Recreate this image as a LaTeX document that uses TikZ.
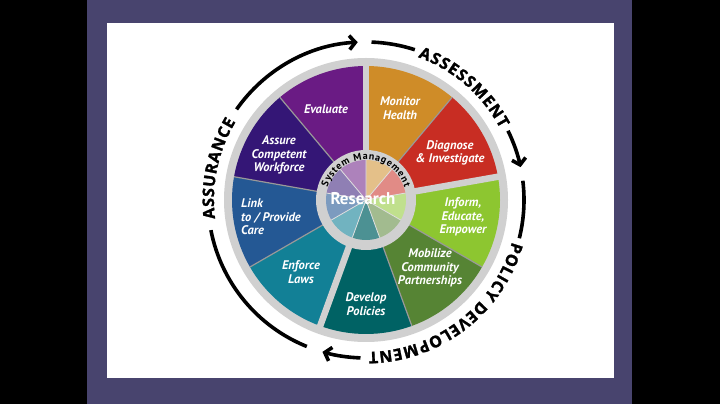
\documentclass[tikz,border=0pt]{standalone}
\usepackage{fontspec}
\setmainfont{PT Sans}
\newfontfamily\capsfont[BoldFeatures={FakeBold=1.5}]{Open Sans}
\usetikzlibrary{arrows.meta, positioning, decorations.text}
\definecolor{clrFrame}{RGB}{72,68,110}
\definecolor{clrRing}{RGB}{208,208,208}
\definecolor{clrEval}{RGB}{106,27,132}
\definecolor{clrMonitor}{RGB}{207,140,40}
\definecolor{clrDiag}{RGB}{200,45,35}
\definecolor{clrInform}{RGB}{141,198,48}
\definecolor{clrMobil}{RGB}{86,132,52}
\definecolor{clrDevelop}{RGB}{0,98,100}
\definecolor{clrEnforce}{RGB}{18,128,150}
\definecolor{clrLink}{RGB}{36,88,148}
\definecolor{clrAssure}{RGB}{52,22,118}

\begin{document}
\begin{tikzpicture}[
  x=1pt, y=1pt,
  seglabel/.style={font=\fontsize{12.5}{13.5}\selectfont\bfseries\itshape,
                   text=white, align=center, inner sep=0pt},
  hublabel/.style={font=\fontsize{17}{17}\selectfont\bfseries,
                   text=white, inner sep=0pt},
  spoke/.style={draw=clrRing, line width=6.5pt},
  thinspoke/.style={draw=gray!80, line width=1.2pt},
  hubspoke/.style={draw=white!75!gray, line width=0.8pt},
  cyclearc/.style={draw=black, line width=3.6pt},
  cyclearr/.style={cyclearc, -{Straight Barb[length=6pt,width=14pt]}},
  phase/.style={decorate, decoration={text along path, text align=fit to path,
                text={|\capsfont\bfseries\fontsize{16}{16}\selectfont|#1}}}
]
\useasboundingbox (0,0) rectangle (720,404);
\fill[black] (0,0) rectangle (720,404);
\fill[clrFrame] (87,0) rectangle (632,404);
\fill[white] (107,26) rectangle (614,381);

\begin{scope}[shift={(366,204)}]
\coordinate (hub) at (0,0);

% outer wheel
\fill[clrRing] (hub) circle[radius=142pt];
\fill[clrMonitor] (hub) -- (50:134pt)   arc[start angle=50,   end angle=90,   radius=134pt] -- cycle;
\fill[clrDiag]    (hub) -- (10:134pt)   arc[start angle=10,   end angle=50,   radius=134pt] -- cycle;
\fill[clrInform]  (hub) -- (-30:134pt)  arc[start angle=-30,  end angle=10,   radius=134pt] -- cycle;
\fill[clrMobil]   (hub) -- (-70:134pt)  arc[start angle=-70,  end angle=-30,  radius=134pt] -- cycle;
\fill[clrDevelop] (hub) -- (-110:134pt) arc[start angle=-110, end angle=-70,  radius=134pt] -- cycle;
\fill[clrEnforce] (hub) -- (-150:134pt) arc[start angle=-150, end angle=-110, radius=134pt] -- cycle;
\fill[clrLink]    (hub) -- (170:134pt)  arc[start angle=170,  end angle=210,  radius=134pt] -- cycle;
\fill[clrAssure]  (hub) -- (130:134pt)  arc[start angle=130,  end angle=170,  radius=134pt] -- cycle;
\fill[clrEval]    (hub) -- (90:134pt)   arc[start angle=90,   end angle=130,  radius=134pt] -- cycle;

\draw[thinspoke] (hub) -- (50:134pt);
\draw[thinspoke] (hub) -- (-30:134pt);
\draw[thinspoke] (hub) -- (-70:134pt);
\draw[thinspoke] (hub) -- (-150:134pt);
\draw[thinspoke] (hub) -- (170:134pt);
\draw[thinspoke] (hub) -- (130:134pt);

% group separators
\draw[spoke] (hub) -- (90:137pt);
\draw[spoke] (hub) -- (10:137pt);
\draw[spoke] (hub) -- (-110:137pt);

% hub
\fill[clrRing] (hub) circle[radius=50pt];
\fill[clrMonitor!55!white] (hub) -- (50:40pt)   arc[start angle=50,   end angle=90,   radius=40pt] -- cycle;
\fill[clrDiag!55!white]    (hub) -- (10:40pt)   arc[start angle=10,   end angle=50,   radius=40pt] -- cycle;
\fill[clrInform!55!white]  (hub) -- (-30:40pt)  arc[start angle=-30,  end angle=10,   radius=40pt] -- cycle;
\fill[clrMobil!55!white]   (hub) -- (-70:40pt)  arc[start angle=-70,  end angle=-30,  radius=40pt] -- cycle;
\fill[clrDevelop!70!white] (hub) -- (-110:40pt) arc[start angle=-110, end angle=-70,  radius=40pt] -- cycle;
\fill[clrEnforce!60!white] (hub) -- (-150:40pt) arc[start angle=-150, end angle=-110, radius=40pt] -- cycle;
\fill[clrLink!60!white]    (hub) -- (170:40pt)  arc[start angle=170,  end angle=210,  radius=40pt] -- cycle;
\fill[clrAssure!55!white]  (hub) -- (130:40pt)  arc[start angle=130,  end angle=170,  radius=40pt] -- cycle;
\fill[clrEval!55!white]    (hub) -- (90:40pt)   arc[start angle=90,   end angle=130,  radius=40pt] -- cycle;
\draw[hubspoke] (hub) -- (90:40pt)  (hub) -- (50:40pt)   (hub) -- (10:40pt)
                (hub) -- (-30:40pt) (hub) -- (-70:40pt)  (hub) -- (-110:40pt)
                (hub) -- (-150:40pt) (hub) -- (170:40pt) (hub) -- (130:40pt);

\path[decorate, decoration={text along path, text align=fit to path,
      text={|\bfseries\fontsize{10}{10}\selectfont|System Management}}]
      (162:40.5pt) arc[start angle=162, end angle=18, radius=40.5pt];
\node[hublabel] (research) at (-3,1) {Research};

% segment labels
\node[seglabel] (evaluate) at (-40,91)  {Evaluate};
\node[seglabel] (monitor)  at (34,92)   {Monitor\\Health};
\node[seglabel] (diagnose) at (84,47)   {Diagnose\\\& Investigate};
\node[seglabel] (inform)   at (97,-17)  {Inform,\\Educate,\\Empower};
\node[seglabel] (mobilize) at (64,-68)  {Mobilize\\Community\\Partnerships};
\node[seglabel] (develop)  at (0,-104)  {Develop\\Policies};
\node[seglabel] (enforce)  at (-65,-72) {Enforce\\Laws};
\node[seglabel, anchor=west, align=left] (link) at (-125,-17) {Link\\to / Provide\\Care};
\node[seglabel] (assure)   at (-87,45)  {Assure\\Competent\\Workforce};

% cycle arrows
\draw[cyclearr] (145:158pt) arc[start angle=145, end angle=93, radius=158pt];
\draw[cyclearc] (88:158pt)  arc[start angle=88,  end angle=72, radius=158pt];
\path[phase=ASSESSMENT] (70:152pt) arc[start angle=70, end angle=28, radius=152pt];
\draw[cyclearr] (26:158pt)  arc[start angle=26,  end angle=12, radius=158pt];
\draw[cyclearc] (7:158pt)   arc[start angle=7,   end angle=-14, radius=158pt];
\path[phase=POLICY DEVELOPMENT] (-16:152pt) arc[start angle=-16, end angle=-89, radius=152pt];
\draw[cyclearr] (-92:158pt) arc[start angle=-92, end angle=-106, radius=158pt];
\draw[cyclearc] (-112:158pt) arc[start angle=-112, end angle=-169, radius=158pt];
\path[phase=ASSURANCE] (187:152pt) arc[start angle=187, end angle=149, radius=152pt];
\end{scope}
\end{tikzpicture}
\end{document}
